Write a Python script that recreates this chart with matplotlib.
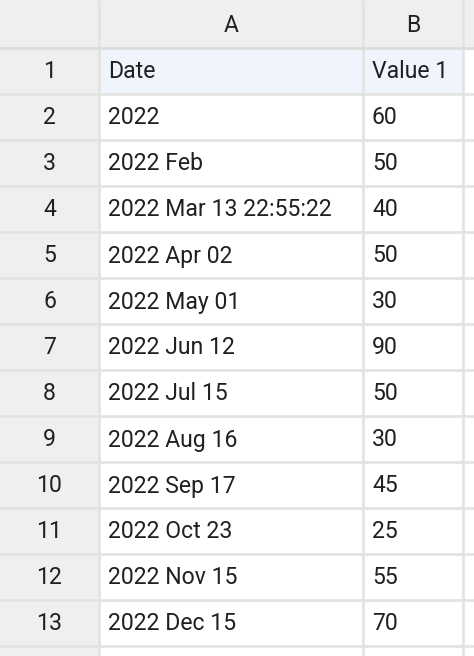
import matplotlib
matplotlib.use("Agg")
import matplotlib.pyplot as plt
from matplotlib.patches import Rectangle

col_letters = ["A", "B"]
header = ["Date", "Value 1"]
dates = ["2022", "2022 Feb", "2022 Mar 13 22:55:22", "2022 Apr 02", "2022 May 01",
         "2022 Jun 12", "2022 Jul 15", "2022 Aug 16", "2022 Sep 17", "2022 Oct 23",
         "2022 Nov 15", "2022 Dec 15"]
values = [60, 50, 40, 50, 30, 90, 50, 30, 45, 25, 55, 70]

W, H = 474, 656
fig = plt.figure(figsize=(W/100, H/100), dpi=100)
ax = fig.add_axes([0, 0, 1, 1])
ax.set_xlim(0, W); ax.set_ylim(H, 0); ax.axis("off")

xs = [0, 99, 363, 463, 520]
head_h = 48
row_h = 46
grid = "#e3e3e3"
hdr_bg = "#efefef"
font = dict(family="Roboto", fontsize=16.6, color="#202020")

rows = [header] + [[d, str(v)] for d, v in zip(dates, values)]
nrows = len(rows) + 1

ax.add_patch(Rectangle((0, 0), W, head_h, color=hdr_bg, lw=0))
ax.add_patch(Rectangle((0, 0), xs[1], H, color=hdr_bg, lw=0))
ax.add_patch(Rectangle((xs[1], head_h), xs[3]-xs[1], row_h, color="#eff4fd", lw=0))

for i, letter in enumerate(col_letters):
    ax.text((xs[i+1]+xs[i+2])/2, head_h/2 + 1, letter, ha="center", va="center", **font)

for r, row in enumerate(rows):
    yc = head_h + r*row_h + row_h/2 + 1
    ax.text(xs[1]/2, yc, str(r+1), ha="center", va="center", **font)
    for c, txt in enumerate(row):
        ax.text(xs[c+1] + 9, yc, txt, ha="left", va="center", **font)

for x in xs[1:4]:
    ax.plot([x, x], [0, H], color=grid, lw=2, solid_capstyle="butt")
ax.plot([0, W], [head_h, head_h], color="#dcdcdc", lw=2)
for r in range(1, nrows + 1):
    y = head_h + r*row_h
    ax.plot([0, W], [y, y], color=grid, lw=2)

fig.savefig("out.png", dpi=100)
